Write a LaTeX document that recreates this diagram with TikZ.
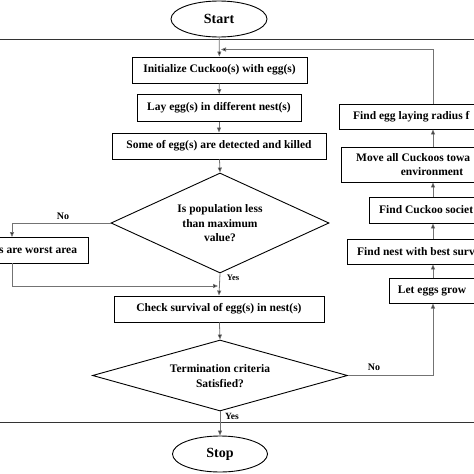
\documentclass[tikz,border=0pt]{standalone}
\usepackage{fontspec}
\setmainfont{Liberation Serif}
\usetikzlibrary{shapes.geometric,arrows.meta}
\tikzset{
  boxnode/.style={draw=black,line width=0.9pt,rectangle,inner sep=0pt},
  ovalnode/.style={draw=black,line width=0.9pt,ellipse,inner sep=0pt},
  decnode/.style={draw=black,line width=0.9pt,diamond,inner sep=0pt},
  txt/.style={font=\bfseries\fontsize{11.5}{13.5}\selectfont,inner sep=0pt},
  lbl/.style={font=\bfseries\fontsize{10}{12}\selectfont,inner sep=0pt},
  conn/.style={draw=black!55,line width=0.8pt,-{Triangle[length=5pt,width=4pt,fill=black]}},
  rule/.style={draw=black!80,line width=1pt}
}
\begin{document}
\begin{tikzpicture}[x=1pt,y=-1pt]
\useasboundingbox (0,0) rectangle (474,474);
\clip (0,0) rectangle (474,474);
\fill[white] (0,0) rectangle (474,474);
% horizontal rules
\coordinate (r1a) at (0,39.5); \coordinate (r1b) at (474,39.5);
\coordinate (r2a) at (0,422); \coordinate (r2b) at (474,422);
\draw[rule] (r1a) -- (r1b);
\draw[rule] (r2a) -- (r2b);
% main column
\node[ovalnode,minimum width=96pt,minimum height=36pt] (start) at (219,19) {};
\node[font=\bfseries\fontsize{14}{16}\selectfont] (starttxt) at (219,19) {Start};
\node[boxnode,minimum width=175pt,minimum height=26pt] (init) at (219.5,70) {};
\node[txt] (inittxt) at (219.5,70) {Initialize Cuckoo(s) with egg(s)};
\node[boxnode,minimum width=164pt,minimum height=27pt] (lay) at (219,108) {};
\node[txt] (laytxt) at (219,108) {Lay egg(s) in different nest(s)};
\node[boxnode,minimum width=214pt,minimum height=26pt] (some) at (219,146) {};
\node[txt] (sometxt) at (219,146) {Some of egg(s) are detected and killed};
\node[decnode,minimum width=218pt,minimum height=100pt] (d1) at (220,223) {};
\node[txt,align=center] (d1txt) at (220,223.5) {Is population less\\[1pt]than maximum\\[1pt]value?};
\node[boxnode,minimum width=128pt,minimum height=26pt] (worst) at (24,250) {};
\node[txt,anchor=west] (worsttxt) at (-1,250) {s are worst area};
\node[boxnode,minimum width=210pt,minimum height=26pt] (check) at (219,309) {};
\node[txt] (checktxt) at (219,309) {Check survival of egg(s) in nest(s)};
\node[decnode,minimum width=255pt,minimum height=71pt] (d2) at (220,375.5) {};
\node[txt,align=center] (d2txt) at (220,376) {Termination criteria\\[1pt]Satisfied?};
\node[ovalnode,minimum width=95pt,minimum height=36pt] (stop) at (220,454) {};
\node[font=\bfseries\fontsize{14}{16}\selectfont] (stoptxt) at (220,454) {Stop};
% right column
\node[boxnode,minimum width=88pt,minimum height=25pt] (lets) at (433,291) {};
\node[txt] (letstxt) at (432,291) {Let eggs grow};
\node[boxnode,minimum width=172pt,minimum height=25pt] (nest) at (433,251.5) {};
\node[txt,anchor=west] (nesttxt) at (357,251.5) {Find nest with best surv};
\node[boxnode,minimum width=128pt,minimum height=26pt] (soc) at (433,210) {};
\node[txt,anchor=west] (soctxt) at (379,210) {Find Cuckoo societ};
\node[boxnode,minimum width=184pt,minimum height=35pt] (move) at (433,164.5) {};
\node[txt,anchor=west] (movetxt1) at (356,158) {Move all Cuckoos towa};
\node[txt] (movetxt2) at (432,172) {environment};
\node[boxnode,minimum width=188pt,minimum height=25pt] (egg) at (433,116.5) {};
\node[txt,anchor=west] (eggtxt) at (353,116.5) {Find egg laying radius f};
% connectors
\draw[conn] (start) -- (init);
\draw[conn] (init) -- (lay);
\draw[conn] (lay) -- (some);
\draw[conn] (some) -- (d1.north);
\coordinate (wtop) at (12,237);
\draw[conn] (d1.west) -| (wtop);
\node[lbl] (nolbl1) at (63,216) {No};
\coordinate (wbot) at (12,263);
\coordinate (wcorner) at (12,286);
\coordinate (wend) at (218,286);
\draw[conn] (wbot) -- (wcorner) -- (wend);
\draw[conn] (d1.south) -- (check.north);
\node[font=\bfseries\fontsize{8.5}{10}\selectfont] (yes1) at (233,278) {Yes};
\draw[conn] (check) -- (d2.north);
\coordinate (lbot) at (433,303.5);
\draw[conn] (d2.east) -| (lbot);
\node[lbl] (nolbl2) at (374,367) {No};
\draw[conn] (lets) -- (nest);
\draw[conn] (nest) -- (soc);
\draw[conn] (soc) -- (move);
\draw[conn] (move) -- (egg);
\coordinate (fbc) at (433,49.5);
\coordinate (fbend) at (221,49.5);
\draw[conn] (egg.north) -- (fbc) -- (fbend);
\draw[conn] (d2.south) -- (stop.north);
\node[font=\bfseries\fontsize{9.5}{11}\selectfont] (yes2) at (232,416) {Yes};
\end{tikzpicture}
\end{document}
